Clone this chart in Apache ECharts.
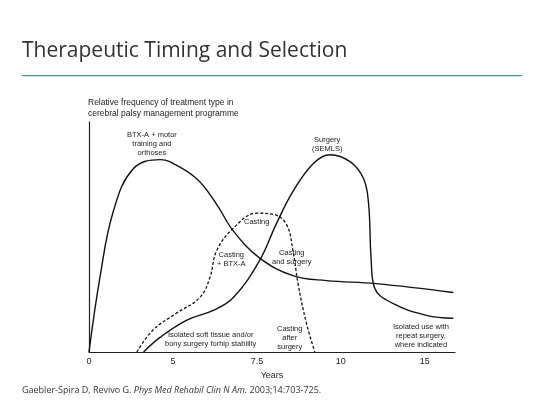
<!DOCTYPE html>
<html>
<head>
<meta charset="UTF-8">
<script src="https://cdn.jsdelivr.net/npm/echarts@6/dist/echarts.min.js"></script>
<style>
  html, body { margin: 0; padding: 0; background: #fff; }
  #chart { width: 540px; height: 405px; }
</style>
</head>
<body>
<div id="chart"></div>
<script>
// x is in tick-slot units: 0,1,2,3,4 carry the labels below
var tickLabels = ['0', '5', '7.5', '10', '15'];
var btxA = [[0,0],[0.13,75],[0.29,142],[0.53,185],[0.85,194],[0.96,192],[1.28,175],[1.52,149],[1.72,122],[2.03,95],[2.43,77],[2.83,72],[3.42,69],[4.34,60]];
var surgery = [[0.65,0],[0.85,15],[1.16,32],[1.48,42],[1.72,55],[2.03,92],[2.23,129],[2.43,162],[2.67,190],[2.87,199],[3.11,192],[3.27,175],[3.33,150],[3.36,95],[3.40,65],[3.62,49],[4.02,37],[4.34,34]];
var casting = [[0.57,0],[0.76,22],[1.04,39],[1.32,55],[1.44,75],[1.52,102],[1.72,125],[2.0,140],[2.19,139],[2.35,129],[2.43,102],[2.49,69],[2.59,29],[2.69,0]];

var labelFont = { fontFamily: 'Liberation Sans', fontSize: 7.5, fill: '#222', textAlign: 'center', lineHeight: 9 };
function note(x, y, text) {
  return { type: 'text', left: x, top: y, style: Object.assign({ text: text }, labelFont) };
}

var chart = echarts.init(document.getElementById('chart'));
chart.setOption({
  backgroundColor: '#fff',
  animation: false,
  grid: { left: 89, right: 85, top: 122, bottom: 53 },
  xAxis: {
    type: 'value', min: 0, max: 4.36, interval: 1,
    axisLine: { lineStyle: { color: '#222', width: 1.2 } },
    axisTick: { show: false },
    splitLine: { show: false },
    axisLabel: { color: '#222', fontFamily: 'Liberation Sans', fontSize: 9, margin: 5,
      formatter: function (v) { return tickLabels[v] !== undefined ? tickLabels[v] : ''; } },
    name: 'Years', nameLocation: 'middle', nameGap: 17,
    nameTextStyle: { color: '#222', fontFamily: 'Liberation Sans', fontSize: 9 }
  },
  yAxis: {
    type: 'value', min: 0, max: 232,
    axisLine: { show: true, lineStyle: { color: '#222', width: 1.2 } },
    axisTick: { show: false }, axisLabel: { show: false }, splitLine: { show: false }
  },
  series: [
    { type: 'line', data: btxA, smooth: 0.4, symbol: 'none', lineStyle: { color: '#111', width: 1.4 } },
    { type: 'line', data: surgery, smooth: 0.4, symbol: 'none', lineStyle: { color: '#111', width: 1.4 } },
    { type: 'line', data: casting, smooth: 0.4, symbol: 'none', lineStyle: { color: '#111', width: 1.3, type: [3, 2] } }
  ],
  graphic: [
    { type: 'text', left: 22, top: 41, style: { text: 'Therapeutic Timing and Selection', fontFamily: 'Open Sans', fontSize: 21, fill: '#333' } },
    { type: 'rect', shape: { x: 22, y: 75, width: 500, height: 1.2 }, style: { fill: '#4f8f97' } },
    { type: 'text', left: 88, top: 97, style: { text: 'Relative frequency of treatment type in\ncerebral palsy management programme', fontFamily: 'Liberation Sans', fontSize: 8.5, fill: '#222', lineHeight: 11 } },
    note(127, 130, 'BTX-A + motor\ntraining and\northoses'),
    note(312, 135, 'Surgery\n(SEMLS)'),
    note(244, 217, 'Casting'),
    note(217, 250, 'Casting\n+ BTX-A'),
    note(272, 248, 'Casting\nand surgery'),
    note(277, 324, 'Casting\nafter\nsurgery'),
    note(165, 330, 'Isolated soft tissue and/or\nbony surgery forhip stability'),
    note(393, 322, 'Isolated use with\nrepeat surgery,\nwhere indicated'),
    { type: 'text', left: 22, top: 386, style: {
      text: '{n|Gaebler-Spira D, Revivo G. }{i|Phys Med Rehabil Clin N Am.}{n| 2003;14:703-725.}',
      rich: { n: { fontFamily: 'Open Sans', fontSize: 9, fill: '#333' }, i: { fontFamily: 'Open Sans', fontSize: 9, fontStyle: 'italic', fill: '#333' } } } }
  ]
});
</script>
</body>
</html>
